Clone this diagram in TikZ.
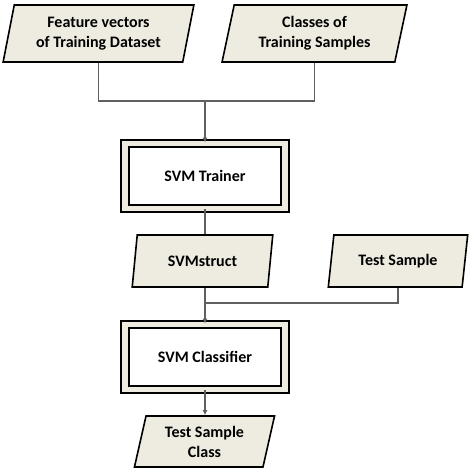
\documentclass[tikz,border=0pt]{standalone}
\usepackage{fontspec}
\setmainfont{Carlito}
\usetikzlibrary{shapes.geometric,arrows.meta}
\definecolor{tan}{HTML}{EEECE1}
\definecolor{linegray}{HTML}{606060}
\begin{document}
\begin{tikzpicture}[x=1pt,y=-1pt,
  io/.style={shape=trapezium, trapezium left angle=76, trapezium right angle=104,
    trapezium stretches=true, draw=black, line width=1.6pt, fill=tan,
    inner sep=0pt, align=center, font=\fontsize{16}{20}\selectfont\bfseries},
  procbox/.style={rectangle, draw=black, line width=1.8pt, double=tan, double distance=5.5pt,
    fill=white, minimum width=160pt, minimum height=65pt, inner sep=0pt,
    font=\fontsize{16}{20}\selectfont\bfseries},
  conn/.style={draw=linegray, line width=1.2pt},
  arr/.style={conn, -{Latex[length=5pt,width=5pt]}}
]
\useasboundingbox (0,0) rectangle (474,474);
\fill[white] (0,0) rectangle (474,474);
\node[io, minimum width=191pt, minimum height=57pt] (fv) at (98.5,33.5) {Feature vectors\\of Training Dataset};
\node[io, minimum width=185pt, minimum height=57pt] (cl) at (314.5,33.5) {Classes of\\Training Samples};
\node[procbox] (tr) at (205,176) {SVM Trainer};
\node[io, minimum width=141pt, minimum height=52pt] (ss) at (202.5,261) {SVMstruct};
\node[io, minimum width=140pt, minimum height=52pt] (ts) at (398,261) {Test Sample};
\node[procbox] (cf) at (205,357) {SVM Classifier};
\node[io, minimum width=141pt, minimum height=51pt] (tc) at (204.5,441.5) {Test Sample\\Class};
\coordinate (j1) at (205,101);
\coordinate (j2) at (205,303);
\draw[conn] (fv.south) |- (j1);
\draw[conn] (cl.south -| cl.center) |- (j1);
\draw[arr] (j1) -- (tr.north);
\draw[conn] (tr.south) -- (tr.south |- ss.north);
\draw[arr] (tr.south |- ss.south) -- (cf.north);
\draw[conn] (ts.south -| ts.center) |- (j2);
\draw[arr] (cf.south) -- (cf.south |- tc.north);
\end{tikzpicture}
\end{document}
